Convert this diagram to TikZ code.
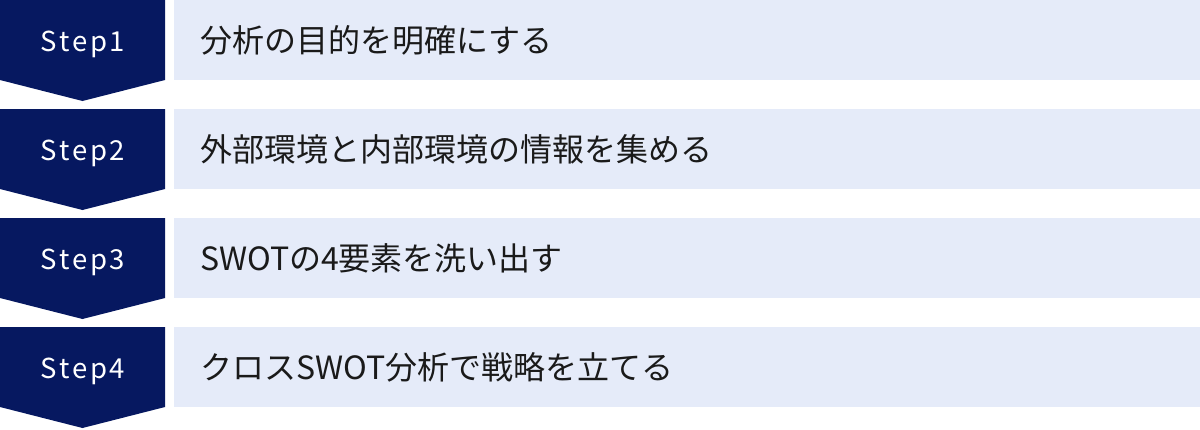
\documentclass[tikz,border=0pt]{standalone}
\usepackage{fontspec}
\setmainfont{Noto Sans CJK JP}
\newfontfamily\stepfont[LetterSpace=10]{Noto Sans CJK JP}
\definecolor{navy}{RGB}{6,24,96}
\definecolor{lightbg}{RGB}{229,235,249}
\definecolor{txt}{RGB}{26,26,26}
\tikzset{
  stepshape/.style={fill=navy},
  stepbg/.style={fill=lightbg},
  steplabel/.style={text=white, anchor=base, font=\stepfont\fontsize{27.5}{30}\selectfont, inner sep=0pt},
  steptext/.style={text=txt, anchor=west, font=\fontsize{32}{38}\selectfont, inner sep=0pt},
}
\begin{document}
\begin{tikzpicture}[x=1pt,y=1pt]
\useasboundingbox (0,0) rectangle (1200,-429);
\foreach \i/\t in {1/分析の目的を明確にする,2/外部環境と内部環境の情報を集める,3/SWOTの4要素を洗い出す,4/クロスSWOT分析で戦略を立てる}{
  \pgfmathsetmacro\y{-109*(\i-1)}
  \fill[stepshape] (0,\y) -- (165,\y) -- (165,\y-80) -- (82.5,\y-101) -- (0,\y-80) -- cycle;
  \fill[stepbg] (174,\y) rectangle (1200,\y-80);
  \node[steplabel] (s\i) at (83,\y-51.5) {Step\i};
  \node[steptext] (t\i) at (200,\y-40) {\t};
}
\end{tikzpicture}
\end{document}
